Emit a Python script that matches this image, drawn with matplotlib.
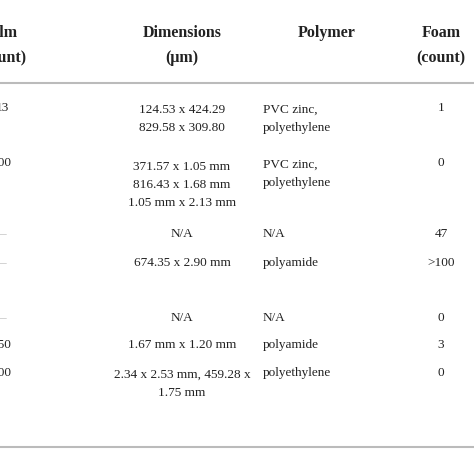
import matplotlib
matplotlib.use("Agg")
import matplotlib.pyplot as plt

plt.rcParams['font.family'] = ['Liberation Serif', 'DejaVu Serif']

headers1 = ["Film", "Dimensions", "Polymer", "Foam"]
headers2 = ["(count)", "(μm)", "", "(count)"]
film = ["13", "100", "–", "–", "–", "150", "100"]
dims = ["124.53 x 424.29\n829.58 x 309.80",
        "371.57 x 1.05 mm\n816.43 x 1.68 mm\n1.05 mm x 2.13 mm",
        "N/A", "674.35 x 2.90 mm", "N/A", "1.67 mm x 1.20 mm",
        "2.34 x 2.53 mm, 459.28 x\n1.75 mm"]
polymer = ["PVC zinc,\npolyethylene", "PVC zinc,\npolyethylene", "N/A",
           "polyamide", "N/A", "polyamide", "polyethylene"]
foam = ["1", "0", "47", ">100", "0", "3", "0"]
row_y = [108, 163, 234, 263, 318, 345, 373]

W = H = 474
fig = plt.figure(figsize=(4.74, 4.74), dpi=100)
fig.patch.set_facecolor('white')

def T(x, y, s, ha='center', fontsize=9.5, **kw):
    fig.text(x / W, 1 - y / H, s, ha=ha, va='center', fontsize=fontsize,
             linespacing=1.65, color='#222222', **kw)

cx = [2, 182, 263, 441]
for i, h in enumerate(headers1):
    T(cx[i] if i != 2 else 327, 33, h, weight='bold', fontsize=11.5)
for i, h in enumerate(headers2):
    if h:
        T(cx[i], 58, h, weight='bold', fontsize=11.5)

for k, y0 in enumerate(row_y):
    n = dims[k].count("\n") + 1
    n2 = polymer[k].count("\n") + 1
    ymid = y0 + (n - 1) * 11
    ymid2 = y0 + (n2 - 1) * 11
    fig.text(cx[0] / W, 1 - y0 / H, film[k], ha='center', va='center',
             fontsize=9.5, color='#bbbbbb' if film[k] == '–' else '#222222')
    T(cx[1], ymid, dims[k])
    T(cx[2], ymid2, polymer[k], ha='left')
    T(cx[3], y0, foam[k])

for y in (83, 447):
    fig.add_artist(plt.Line2D([0, 1], [1 - y / H] * 2, color='#bbbbbb', lw=1.5))

fig.savefig("out.png", dpi=100, facecolor='white')
